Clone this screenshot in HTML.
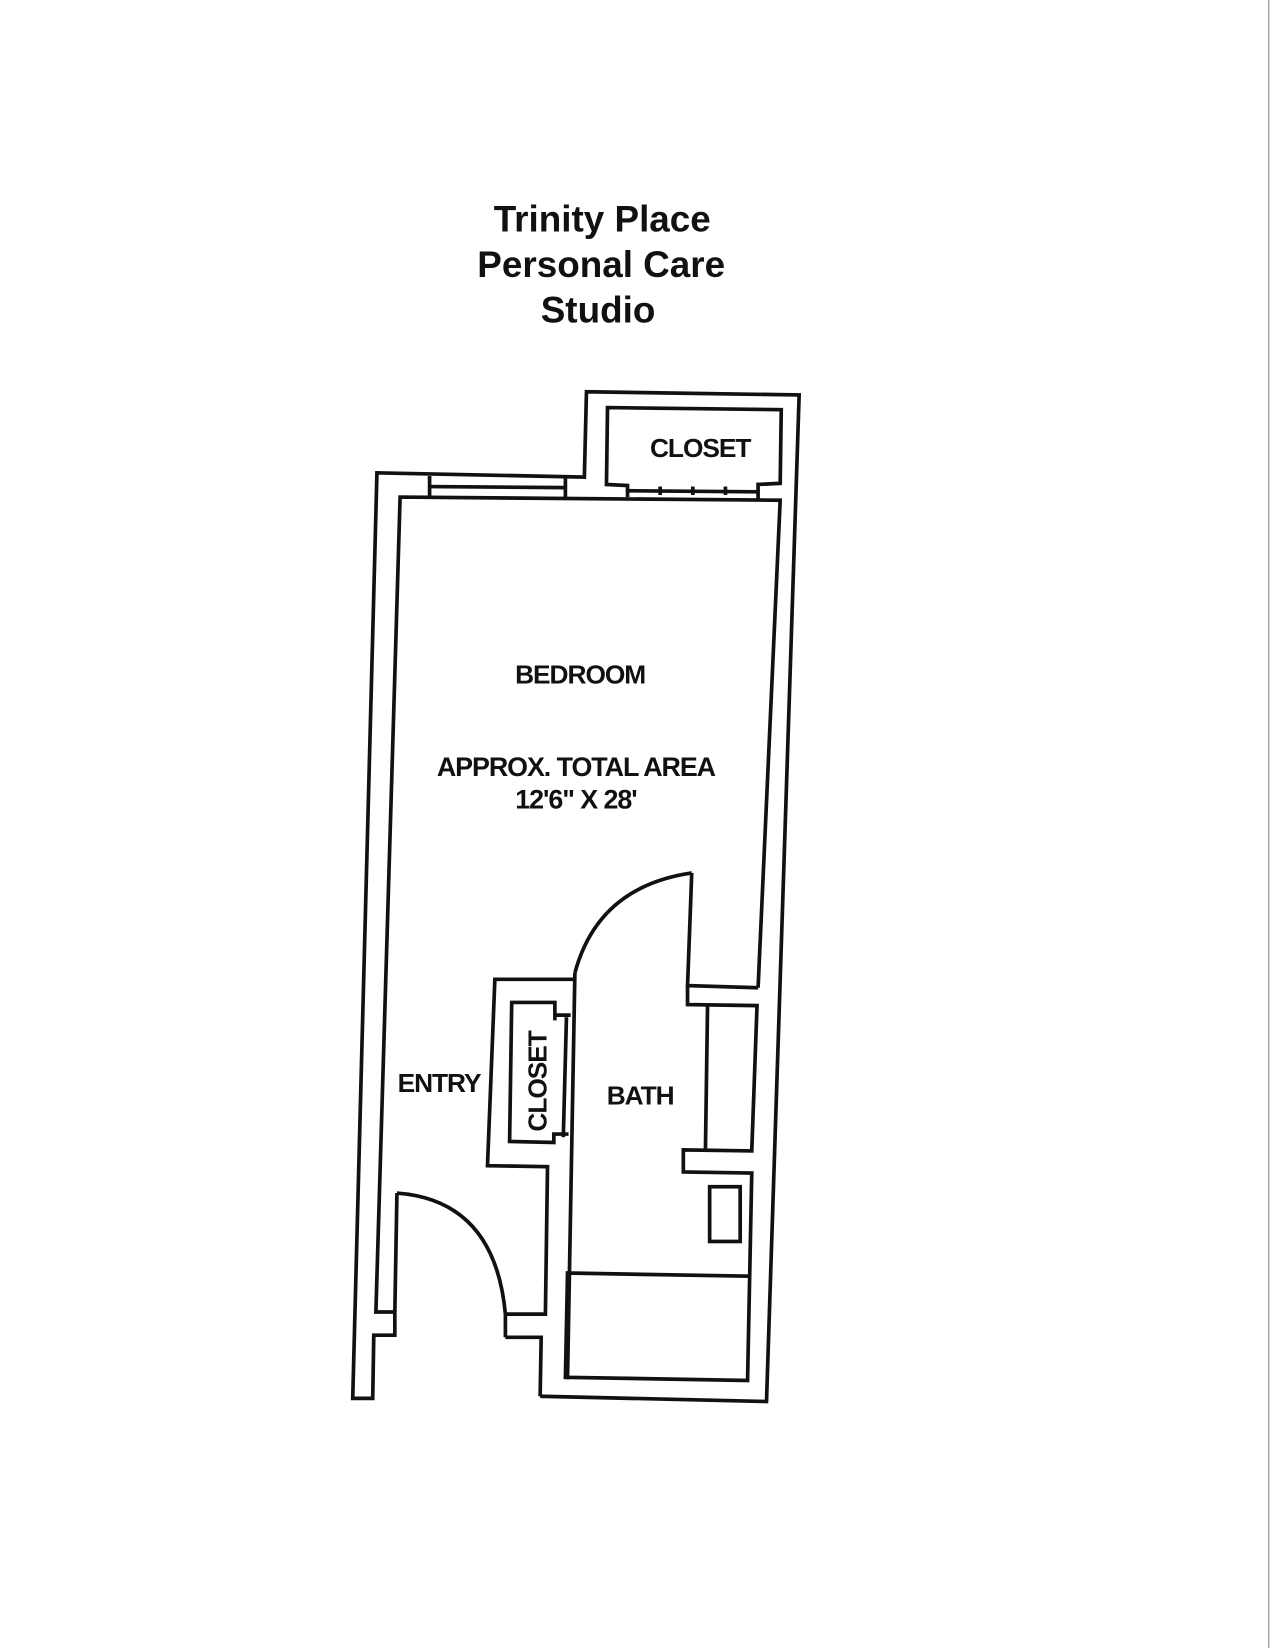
<!DOCTYPE html>
<html><head><style>html,body{margin:0;padding:0;background:#fff}svg{display:block}</style></head><body>
<svg width="1274" height="1648" viewBox="0 0 1210 1565" xmlns="http://www.w3.org/2000/svg">
<g font-family="Liberation Sans, sans-serif" font-weight="bold" fill="#111" text-anchor="middle">
<text x="572" y="220" font-size="35">Trinity Place</text>
<text x="571" y="263" font-size="35">Personal Care</text>
<text x="568" y="306" font-size="35">Studio</text>
<text x="665" y="434" font-size="25" letter-spacing="-1">CLOSET</text>
<text x="551" y="649" font-size="25" letter-spacing="-1">BEDROOM</text>
<text x="547" y="737" font-size="25.5" letter-spacing="-1">APPROX. TOTAL AREA</text>
<text x="547" y="768" font-size="25.5" letter-spacing="-1">12'6" X 28'</text>
<text x="417" y="1037" font-size="25" letter-spacing="-1">ENTRY</text>
<text x="608" y="1049" font-size="25" letter-spacing="-1">BATH</text>
<text transform="translate(519,1027) rotate(-90)" font-size="25" letter-spacing="-1">CLOSET</text>
</g>
<g fill="none" stroke="#111" stroke-width="3.5" stroke-linejoin="miter">
<polyline points="513,1326 728,1331 759,375 557,372 555,453 358,449 335,1328 354,1328 355,1268 375,1268 375,1246 357,1246 380,472 741,475 720,938"/>
<line x1="408" y1="452" x2="408" y2="472"/>
<line x1="408" y1="462" x2="537" y2="463"/>
<line x1="537" y1="454" x2="537" y2="473"/>
<polyline points="596,472 596,461 576,460 577,387 742,389 741,459 720,460 720,476"/>
<line x1="596" y1="466" x2="720" y2="467"/>
<line x1="627" y1="462" x2="627" y2="470"/>
<line x1="658" y1="462" x2="658" y2="470"/>
<line x1="689" y1="462" x2="689" y2="470"/>
<polyline points="720,938 653,936 657,829"/>
<polyline points="653,936 653,954 719,955 714,1093 649,1092 649,1113 714,1114 710,1311 537,1308 539,1209 712,1212"/>
<line x1="672" y1="955" x2="670" y2="1092"/>
<rect x="674" y="1127" width="29" height="52"/>
<path d="M657,829 Q568,842 546,924"/>
<line x1="546" y1="924" x2="539" y2="1310"/>
<polyline points="546,930 470,930 463,1107 520,1108 518,1248 480,1248"/>
<polyline points="480,1270 514,1270 513,1326"/>
<polyline points="480,1248 480,1270"/>
<polyline points="527,969 527,952 486,952 484,1084 526,1085 526,1077 540,1077"/>
<polyline points="527,964 542,964"/>
<line x1="538" y1="966" x2="535" y2="1080"/>
<polyline points="375,1246 377,1133"/>
<path d="M377,1133 Q470,1140 480,1248"/>
</g>
<line x1="1205" y1="0" x2="1205" y2="1565" stroke="#aaa" stroke-width="1.5"/>
</svg>
</body></html>
